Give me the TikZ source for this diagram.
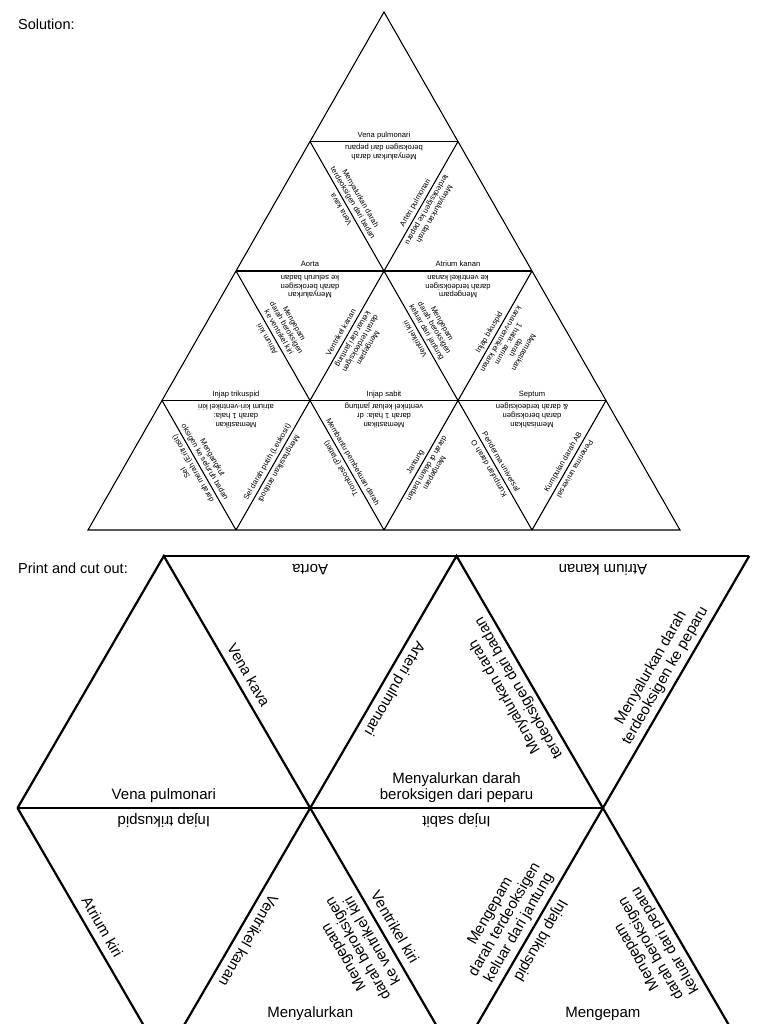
\documentclass[tikz,border=0pt]{standalone}
\usepackage{fontspec}
\setmainfont{Liberation Sans}
\usetikzlibrary{calc}
\tikzset{
  small/.style={font=\fontsize{7.6}{8.8}\selectfont, align=center, inner sep=0pt, execute at end node={\vphantom{g}}},
  big/.style={font=\fontsize{15}{16.5}\selectfont, align=center, inner sep=0pt, execute at end node={\vphantom{g}}},
  heading/.style={font=\fontsize{14.5}{16}\selectfont, inner sep=0pt},
  thinline/.style={line width=1.1pt, line join=miter},
  thickline/.style={line width=2.2pt, line join=miter},
}
\newcommand\ET[6]{%
  \node[#1, rotate=#5, anchor=south] (#2) at ($(#3)!0.5!(#4)+(#5+90:\gapval)$) {#6};}
\begin{document}
\begin{tikzpicture}[x=1pt,y=1pt]
\fill[white] (0,0) rectangle (768,-1024);
\useasboundingbox (0,0) rectangle (768,-1024);

\node[heading, anchor=base west] (sol) at (18,-30) {Solution:};
\node[heading, anchor=base west] (pco) at (18,-573) {Print and cut out:};

% ---------- solution pyramid ----------
\foreach \j in {0,...,4}{\foreach \i in {0,...,\j}{
  \coordinate (t\i\j) at ({384-74*\j+148*\i},{-(12+129.5*\j)});}}
\draw[thinline] (t00) -- (t04) -- (t44) -- cycle;
\foreach \j in {1,2,3} \draw[thinline] (t0\j) -- (t\j\j);
\foreach \i in {1,2,3} \draw[thinline] (t\i\i) -- (t\i4);
\foreach \m in {1,2,3} {\pgfmathtruncatemacro\e{4-\m}\draw[thinline] (t0\m) -- (t\e4);}

\def\gapval{2.6pt}
\ET{small}{a1}{t01}{t11}{0}{Vena pulmonari}
\ET{small}{a2}{t01}{t11}{180}{Menyalurkan darah\\beroksigen dari peparu}
\ET{small}{a3}{t01}{t12}{-60}{Menyalurkan darah\\terdeoksigen dari badan}
\ET{small}{a4}{t11}{t12}{60}{Arteri pulmonari}
\ET{small}{a5}{t01}{t12}{120}{Vena kava}
\ET{small}{a6}{t02}{t12}{0}{Aorta}
\ET{small}{a7}{t11}{t12}{-120}{Menyalurkan darah\\terdeoksigen ke peparu}
\ET{small}{a8}{t12}{t22}{0}{Atrium kanan}

\ET{small}{b1}{t02}{t12}{180}{Menyalurkan\\darah beroksigen\\ke seluruh badan}
\ET{small}{b2}{t02}{t13}{-60}{Mengepam\\darah beroksigen\\ke ventrikel kiri}
\ET{small}{b3}{t12}{t13}{60}{Ventrikel kanan}
\ET{small}{b4}{t12}{t22}{180}{Mengepam\\darah terdeoksigen\\ke ventrikel kanan}
\ET{small}{b5}{t12}{t23}{-60}{Mengepam\\darah beroksigen\\keluar dari jantung}
\ET{small}{b6}{t22}{t23}{60}{Injap bikuspid}
\ET{small}{b7}{t02}{t13}{120}{Atrium kiri}
\ET{small}{b8}{t03}{t13}{0}{Injap trikuspid}
\ET{small}{b9}{t12}{t13}{-120}{Mengepam\\darah terdeoksigen\\keluar dari jantung}
\ET{small}{b10}{t12}{t23}{120}{Ventrikel kiri}
\ET{small}{b11}{t13}{t23}{0}{Injap sabit}
\ET{small}{b12}{t22}{t23}{-120}{Memastikan\\darah\\1 hala: atrium\\kanan-ventrikel kanan}
\ET{small}{b13}{t23}{t33}{0}{Septum}

\ET{small}{c1}{t03}{t13}{180}{Memastikan\\darah 1 hala:\\atrium kiri-ventrikel kiri}
\ET{small}{c2}{t03}{t14}{-60}{Mengangkut\\oksigen ke seluruh badan}
\ET{small}{c3}{t13}{t14}{60}{Sel darah putih (Leukosit)}
\ET{small}{c4}{t13}{t23}{180}{Memastikan\\darah 1 hala: dr\\ventrikel keluar jantung}
\ET{small}{c5}{t13}{t24}{-60}{Membantu pembekuan darah}
\ET{small}{c6}{t23}{t24}{60}{Jantung}
\ET{small}{c7}{t23}{t33}{180}{Memisahkan\\darah beroksigen\\\& darah terdeoksigen}
\ET{small}{c8}{t23}{t34}{-60}{Penderma universal}
\ET{small}{c9}{t33}{t34}{60}{Kumpulan darah AB}
\ET{small}{c10}{t03}{t14}{120}{Sel\\darah merah (Eritrosit)}
\ET{small}{c11}{t13}{t14}{-120}{Menghasilkan antibodi}
\ET{small}{c12}{t13}{t24}{120}{Trombosit (Platlet)}
\ET{small}{c13}{t23}{t24}{-120}{Mengepam\\darah di dalam badan}
\ET{small}{c14}{t23}{t34}{120}{Kumpulan darah O}
\ET{small}{c15}{t33}{t34}{-120}{Penerima universal}

% ---------- cut-out pieces ----------
\coordinate (U1) at (163.8,-556);
\coordinate (U2) at (456.5,-556);
\coordinate (U3) at (749.2,-556);
\coordinate (M0) at (17.5,-808);
\coordinate (M1) at (310.2,-808);
\coordinate (M2) at (602.9,-808);
\coordinate (L1) at (163.8,-1060);
\coordinate (L2) at (456.5,-1060);
\coordinate (L3) at (749.2,-1060);
\begin{scope}
\clip (0,0) rectangle (768,-1024);
\draw[thickline] (U1) -- (U3);
\draw[thickline] (M0) -- (M2);
\draw[thickline] (M0) -- (U1) -- (M1) -- (U2) -- (M2) -- (U3);
\draw[thickline] (M0) -- (L1) -- (M1) -- (L2) -- (M2) -- (L3);
\end{scope}

\def\gapval{5pt}
\ET{big}{d1}{M0}{M1}{0}{Vena pulmonari}
\ET{big}{d2}{U1}{U2}{180}{Aorta}
\ET{big}{d3}{U1}{M1}{-60}{Vena kava}
\ET{big}{d4}{M1}{U2}{-120}{Arteri pulmonari}
\ET{big}{d5}{U2}{M2}{120}{Menyalurkan darah\\terdeoksigen dari badan}
\ET{big}{d6}{M1}{M2}{0}{Menyalurkan darah\\beroksigen dari peparu}
\ET{big}{d7}{U2}{U3}{180}{Atrium kanan}
\ET{big}{d8}{U3}{M2}{60}{Menyalurkan darah\\terdeoksigen ke peparu}
\ET{big}{e1}{M0}{M1}{180}{Injap trikuspid}
\ET{big}{e2}{M0}{L1}{-60}{Atrium kiri}
\ET{big}{e3}{M1}{L1}{-120}{Ventrikel kanan}
\ET{big}{e4}{M1}{L2}{120}{Mengepam\\darah beroksigen\\ke ventrikel kiri}
\ET{big}{e5}{M1}{M2}{180}{Injap sabit}
\ET{big}{e6}{M1}{L2}{-60}{Ventrikel kiri}
\ET{big}{e7}{M2}{L2}{60}{Mengepam\\darah terdeoksigen\\keluar dari jantung}
\ET{big}{e8}{M2}{L2}{-120}{Injap bikuspid}
\ET{big}{e9}{M2}{L3}{120}{Mengepam\\darah beroksigen\\keluar dari peparu}
\node[big, anchor=base] (g1) at (310.2,-1017) {Menyalurkan};
\node[big, anchor=base] (h1) at (602.9,-1017) {Mengepam};
\end{tikzpicture}
\end{document}
